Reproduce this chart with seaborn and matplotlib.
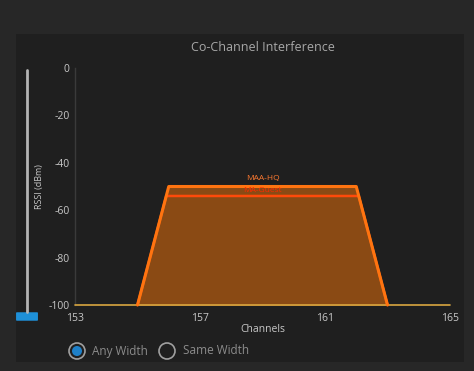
import numpy as np
import pandas as pd
import seaborn as sns
import matplotlib.pyplot as plt
from matplotlib.patches import Rectangle, Ellipse, FancyBboxPatch

# Data
networks = ['MAA-HQ', 'MA-Guest']
hq_channels = [155.0, 156.0, 162.0, 163.0]
hq_rssi = [-100, -50, -50, -100]
guest_channels = [155.0, 155.92, 162.08, 163.0]
guest_rssi = [-100, -54, -54, -100]
baseline_channels = [153, 165]
baseline_rssi = [-100, -100]
x_ticks = [153, 157, 161, 165]
y_ticks = [0, -20, -40, -60, -80, -100]

sns.set_style('dark')
plt.rcParams['font.family'] = ['Open Sans', 'DejaVu Sans']
plt.rcParams['axes.unicode_minus'] = False

W, H = 474, 371
fig = plt.figure(figsize=(W / 100, H / 100), dpi=100)
fig.patch.set_facecolor('#272727')
fig.patches.append(Rectangle((16 / W, 1 - 362 / H), 448 / W, 328 / H,
                             transform=fig.transFigure, facecolor='#1f1f1f',
                             edgecolor='none', zorder=-1))

ax = fig.add_axes([75 / W, 1 - 305 / H, 375 / W, 237 / H])
ax.set_zorder(2)
ax.set_facecolor('#1f1f1f')

df_hq = pd.DataFrame({'Channels': hq_channels, 'RSSI': hq_rssi})
df_guest = pd.DataFrame({'Channels': guest_channels, 'RSSI': guest_rssi})
df_base = pd.DataFrame({'Channels': baseline_channels, 'RSSI': baseline_rssi})

ax.fill_between(df_hq.Channels, df_hq.RSSI, -100, color='#8a4a14', zorder=2)
sns.lineplot(data=df_base, x='Channels', y='RSSI', ax=ax, color='#d9a640',
             linewidth=1.2, sort=False, zorder=3, clip_on=False)
sns.lineplot(data=df_guest, x='Channels', y='RSSI', ax=ax, color='#ff4a0a',
             linewidth=1.8, sort=False, zorder=4, clip_on=False)
sns.lineplot(data=df_hq, x='Channels', y='RSSI', ax=ax, color='#ff7410',
             linewidth=2.2, sort=False, zorder=5, clip_on=False)

ax.text(159.0, -48.3, networks[0], color='#ff7a30', fontsize=6, ha='center', va='bottom', zorder=6)
ax.text(159.0, -51.5, networks[1], color='#ff2a00', fontsize=6, ha='center', va='center', zorder=6)

ax.set_xlim(153, 165)
ax.set_ylim(-100, 0)
ax.set_xticks(x_ticks)
ax.set_yticks(y_ticks)
ax.grid(False)
ax.tick_params(colors='#c8c8c8', labelsize=7.5, length=0)
ax.tick_params(axis='x', pad=6)
ax.tick_params(axis='y', pad=4)
for side in ['top', 'right', 'bottom']:
    ax.spines[side].set_visible(False)
ax.spines['left'].set_color('#3a3a3a')
ax.spines['left'].set_linewidth(1)
ax.set_xlabel('Channels', color='#c8c8c8', fontsize=7.5, labelpad=0)
ax.set_ylabel('RSSI (dBm)', color='#c8c8c8', fontsize=6.5, labelpad=3)
ax.set_title('Co-Channel Interference', color='#a8a8a8', fontsize=9, pad=12)

# slider on the left
fig.lines.append(plt.Line2D([27 / W, 27 / W], [1 - 70 / H, 1 - 312 / H],
                            transform=fig.transFigure, color='#b4b4b4', linewidth=2))
fig.patches.append(FancyBboxPatch((17 / W, 1 - 320 / H), 20 / W, 7 / H,
                                  boxstyle='round,pad=0.002', transform=fig.transFigure,
                                  facecolor='#1e90d8', edgecolor='none'))

# radio buttons
for cx in [77, 167]:
    fig.patches.append(Ellipse((cx / W, 1 - 351 / H), 16 / W, 16 / H, transform=fig.transFigure,
                               facecolor='none', edgecolor='#a0a0a0', linewidth=1.2))
fig.patches.append(Ellipse((77 / W, 1 - 351 / H), 10 / W, 10 / H, transform=fig.transFigure,
                           facecolor='#1e80c8', edgecolor='none'))
fig.text(92 / W, 1 - 351 / H, 'Any Width', color='#8c8c8c', fontsize=8.5, va='center')
fig.text(183 / W, 1 - 351 / H, 'Same Width', color='#8c8c8c', fontsize=8.5, va='center')

fig.savefig('out.png', dpi=100, facecolor=fig.get_facecolor())
